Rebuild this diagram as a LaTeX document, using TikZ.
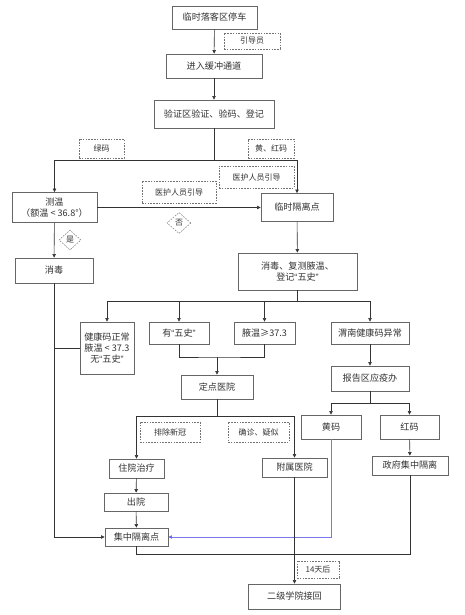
\documentclass[tikz,border=0pt]{standalone}
\usepackage{fontspec}
\setmainfont{Noto Sans CJK SC}
\newfontfamily\latinfont{Liberation Sans}
\newcommand\wushi{{\latinfont“}五史{\latinfont”}}
\usetikzlibrary{arrows.meta,shapes.geometric}

\begin{document}
\begin{tikzpicture}[
  x=1pt, y=-1pt,
  font=\fontsize{9.1}{11}\selectfont,
  stage/.style 2 args={rectangle, draw=black!60, line width=0.9pt, fill=white,
                minimum width=#1pt, minimum height=#2pt, inner sep=1pt,
                align=center, text=black!80},
  hint/.style 2 args={rectangle, draw=black!55, dashed, dash pattern=on 1.6pt off 1.2pt,
                line width=0.5pt, minimum width=#1pt, minimum height=#2pt, inner sep=1pt,
                font=\fontsize{8}{9}\selectfont, text=black!80},
  gate/.style={diamond, draw=black!55, dashed, dash pattern=on 1.6pt off 1.2pt,
                line width=0.5pt, minimum width=24pt, minimum height=21pt, inner sep=0pt,
                font=\fontsize{8}{9}\selectfont, text=black!80},
  flow/.style={-{Triangle[length=3.5pt,width=3.5pt]}, line width=0.6pt, draw=black!80},
  wire/.style={line width=0.6pt, draw=black!80},
  blueflow/.style={-{Triangle[length=3.5pt,width=3.5pt,fill=blue!80!black]}, line width=0.7pt,
                draw={rgb,255:red,120;green,120;blue,235}}
]
\useasboundingbox (0,0) rectangle (464,615);
% ── entry ────────────────────────────────────────────────────────────────────
\node[stage={85}{23}]  (park)    at (214.5,17.5) {临时落客区停车};
\node[hint={56}{16}]   (guide)   at (252,41)     {引导员};
\node[stage={96}{24}]  (buffer)  at (214,66)     {进入缓冲通道};
\node[stage={120}{28}] (verify)  at (214,114)    {验证区验证、验码、登记};
\node[hint={45}{19}]   (green)   at (101.5,148.5) {绿码};
\node[hint={46}{19}]   (yelred)  at (271,148.5)  {黄、红码};

% ── screening ────────────────────────────────────────────────────────────────
\node[stage={85}{30}]  (temp)    at (54.5,207.5) {测温\\（额温 < 36.8°）};
\node[hint={75}{22}]   (medA)    at (256.5,177)  {医护人员引导};
\node[hint={74}{22}]   (medB)    at (179,192)    {医护人员引导};
\node[stage={72}{28}]  (isolate) at (297,207.5)  {临时隔离点};
\node[gate]            (no)      at (179,223)    {否};
\node[gate, minimum width=22pt, minimum height=20pt] (yes) at (70,240) {是};
\node[stage={78}{25}]  (disinf)  at (54,270.5)   {消毒};
\node[stage={119}{37}] (retest)  at (297.5,271.5) {消毒、复测腋温、\\登记\wushi};

% ── outcomes ─────────────────────────────────────────────────────────────────
\node[stage={54}{52}]  (normal)  at (107,348)    {健康码正常\\腋温 < 37.3\\无\wushi};
\node[stage={60}{22}]  (fivehist) at (179,333)   {有\wushi};
\node[stage={61}{22}]  (fever)   at (264.5,333)  {腋温≥37.3};
\node[stage={78}{22}]  (abnormal) at (370,333)   {渭南健康码异常};
\node[stage={72}{24}]  (fixed)   at (217,387)    {定点医院};
\node[stage={78}{25}]  (report)  at (370,378.5)  {报告区应疫办};
\node[stage={60}{24}]  (yellow)  at (331,427)    {黄码};
\node[stage={59}{24}]  (red)     at (409.5,427)  {红码};
\node[hint={60}{20}]   (excl)    at (170,432)    {排除新冠};
\node[hint={61}{20}]   (conf)    at (258.5,432)  {确诊、疑似};
\node[stage={55}{19}]  (inpat)   at (136.5,468.5) {住院治疗};
\node[stage={65}{19}]  (affil)   at (294.5,467.5) {附属医院};
\node[stage={76}{19}]  (gov)     at (410,465.5)  {政府集中隔离};
\node[stage={64}{18}]  (leave)   at (136,502)    {出院};
\node[stage={63}{18}]  (central) at (136.5,537)  {集中隔离点};
\node[hint={42}{17}]   (days)    at (318,569.5)  {14天后};
\node[stage={92}{25}]  (school)  at (294.5,596.5) {二级学院接回};

% ── connectors ───────────────────────────────────────────────────────────────
\coordinate (split1) at (214,160);
\coordinate (split2) at (297.5,301);
\coordinate (join1)  at (217,357);
\coordinate (split3) at (370,403);
\coordinate (split4) at (217,416);
\coordinate (tail)   at (136.5,554);

\draw[flow] (park) -- (buffer);
\draw[flow] (buffer) -- (verify);
\draw[wire] (verify) -- (split1);
\draw[flow] (split1) -| (temp);
\draw[flow] (split1) -| (isolate);
\draw[flow] (temp) -- (isolate);
\draw[flow] (temp) -- (disinf);
\draw[flow] (isolate) -- (retest);
\draw[wire] (retest) -- (split2);
\draw[flow] (split2) -| (normal);
\draw[flow] (split2) -| (fivehist);
\draw[flow] (split2) -| (fever);
\draw[flow] (split2) -| (abnormal);
\draw[wire] (fivehist) |- (join1) -| (fever);
\draw[flow] (join1) -- (fixed);
\draw[flow] (abnormal) -- (report);
\draw[wire] (report) -- (split3);
\draw[flow] (split3) -| (yellow);
\draw[flow] (split3) -| (red);
\draw[wire] (fixed) -- (split4);
\draw[flow] (split4) -| (inpat);
\draw[flow] (split4) -| (affil);
\draw[flow] (inpat) -- (leave);
\draw[flow] (leave) -- (central);
\draw[flow] (disinf) |- (central);
\draw[wire] (normal.west) -- (normal.west -| disinf.south);
\draw[blueflow] (yellow) |- (central);
\draw[flow] (red) -- (gov);
\draw[wire] (gov) |- (tail) -- (central);
\draw[flow] (affil) -- (school);
\end{tikzpicture}
\end{document}
